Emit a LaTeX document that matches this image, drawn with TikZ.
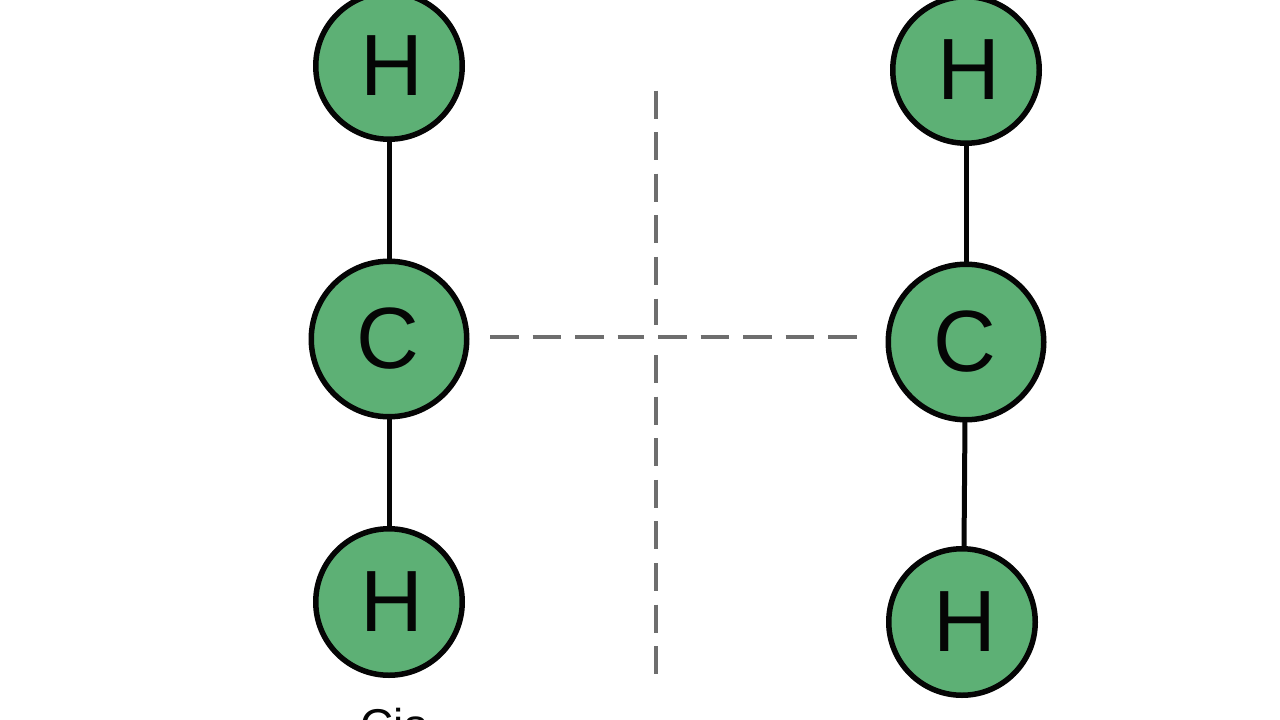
\documentclass[tikz,border=0pt]{standalone}
\usepackage{fontspec}
\setmainfont{Liberation Sans}
\definecolor{atomgreen}{HTML}{5DB075}
\definecolor{dashgrey}{HTML}{6E6E6E}
\definecolor{inkblack}{HTML}{050505}
\newcommand{\hlabel}{\hspace*{6pt}\raisebox{-2pt}{H}}
\newcommand{\clabel}{\hspace*{-3pt}C}
\tikzset{
  atom/.style={circle,draw=inkblack,line width=5.5pt,fill=atomgreen,inner sep=0pt,outer sep=0pt,text=inkblack,
    font=\fontsize{87}{87}\selectfont},
  hatom/.style={atom,minimum size=146.5pt},
  catom/.style={atom,minimum size=155.5pt},
  bond/.style={draw=inkblack,line width=5pt},
  axis/.style={draw=dashgrey,line width=4.7pt,dash pattern=on 28pt off 13.6pt},
  axish/.style={draw=dashgrey,line width=4.7pt,dash pattern=on 28.5pt off 14pt},
}
\begin{document}
\begin{tikzpicture}[x=1pt,y=-1pt]
\useasboundingbox (0,0) rectangle (1280,720);
\clip (0,0) rectangle (1280,720);
\fill[white] (0,0) rectangle (1280,720);
\node[hatom] (lh1) at (389,66) {\hlabel};
\node[catom] (lc) at (389,339) {\clabel};
\node[hatom] (lh2) at (389,602) {\hlabel};
\node[hatom] (rh1) at (966,70) {\hlabel};
\node[catom] (rc) at (966,342) {\clabel};
\node[hatom] (rh2) at (962,622) {\hlabel};
\draw[bond] (lh1.south) -- (lc.north);
\draw[bond] (lc.south) -- (lh2.north);
\draw[bond] (rh1.south) -- (rc.north);
\draw[bond] ([xshift=-1pt]rc.south) -- ([xshift=2pt]rh2.north);
\coordinate (va) at (656,90.5);
\coordinate (vb) at (656,325);
\coordinate (vc) at (656,355);
\coordinate (vd) at (656,675);
\coordinate (ha) at (490,337);
\coordinate (hb) at (644,337);
\coordinate (hc) at (658,337);
\coordinate (hd) at (857,337);
\draw[axis] (va) -- (vb);
\draw[axis] (vc) -- (vd);
\draw[axish] (ha) -- (hb);
\draw[axish] (hc) -- (hd);
\node[anchor=base,inner sep=0pt,text=inkblack,font=\fontsize{46}{46}\selectfont] (cis) at (394,741) {Cis};
\end{tikzpicture}
\end{document}
